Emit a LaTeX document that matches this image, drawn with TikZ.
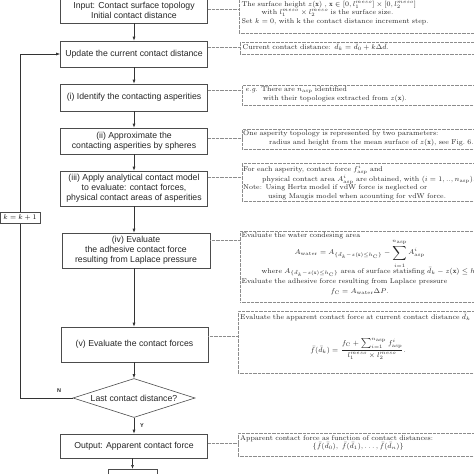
\documentclass[tikz,border=0pt]{standalone}
\usepackage{fontspec}
\newfontfamily\sansf{Liberation Sans}
\usetikzlibrary{arrows.meta,shapes.geometric}
\newcommand{\ctrline}[1]{\makebox[236pt]{#1}}
\begin{document}
\begin{tikzpicture}[x=1pt,y=-1pt,
  lbox/.style={draw=black!70, line width=0.6pt, minimum width=147, align=center, inner sep=1pt, font=\sansf\fontsize{8.7}{9.8}\selectfont, text=black!85},
  rbox/.style={draw=black!45, line width=0.5pt, dash pattern=on 0.5pt off 0.8pt, minimum width=242, anchor=north west, inner sep=0pt},
  rtext/.style={anchor=north west, text width=320, align=left, inner sep=0pt, font=\fontsize{7}{8.5}\selectfont, text=black!85},
  conn/.style={draw=black!45, line width=0.5pt, dash pattern=on 0.5pt off 0.8pt},
  arr/.style={draw=black!80, line width=0.6pt, -{Latex[length=4pt,width=3pt]}},
  lbl/.style={font=\sansf\bfseries\fontsize{5.5}{6}\selectfont, text=black!85, inner sep=0pt}
]
\useasboundingbox (0,0) rectangle (474,474);
\clip (0,0) rectangle (474,474);

% left column
\node[lbox, minimum height=26] (inp) at (134,10) {Input: Contact surface topology\\Initial contact distance};
\node[lbox, minimum height=26] (upd) at (134,54) {Update the current contact distance};
\node[lbox, minimum height=27] (s1) at (134,97.5) {(i) Identify the contacting asperities};
\node[lbox, minimum height=26] (s2) at (134,141) {(ii) Approximate the\\contacting asperities by spheres};
\node[lbox, minimum height=35] (s3) at (134,188.5) {(iii) Apply analytical contact model\\to evaluate: contact forces,\\physical contact areas of asperities};
\node[lbox, minimum height=35, minimum width=148] (s4) at (136,250.5) {(iv) Evaluate\\the adhesive contact force\\resulting from Laplace pressure};
\node[lbox, minimum height=35] (s5) at (134.5,344.5) {(v) Evaluate the contact forces};
\node[diamond, draw=black!70, line width=0.6pt, aspect=3.13, minimum width=122, minimum height=39, inner sep=0pt, font=\sansf\fontsize{8.7}{9.8}\selectfont, text=black!85] (dia) at (134,398) {Last contact distance?};
\node[lbox, minimum height=24] (out) at (134,446) {Output: Apparent contact force};
\node[lbox, minimum width=49, minimum height=26, anchor=north] (fin) at (132.5,469) {};

% arrows
\draw[arr] (inp.south -| upd.north) -- (upd.north);
\draw[arr] (upd.south) -- (s1.north);
\draw[arr] (s1.south) -- (s2.north);
\draw[arr] (s2.south) -- (s3.north);
\draw[arr] (s3.south) -- (s3.south |- s4.north);
\draw[arr] (s3.south |- s4.south) -- (s3.south |- s5.north);
\draw[arr] (s5.south -| dia.north) -- (dia.north);
\draw[arr] (dia.south) -- (dia.south |- out.north);
\draw[arr] (out.south -| fin.north) -- (fin.north);

% loop
\coordinate (lp) at (20,398);
\draw[arr] (dia.west) -- (lp) -- (lp |- upd.west) -- (upd.west);
\node[draw=black!70, fill=white, line width=0.5pt, minimum width=40, minimum height=11, inner sep=0pt, font=\fontsize{7}{8}\selectfont] (kb) at (20,217.5) {$k=k+1$};
\node[lbl] (nl) at (59,391) {N};
\node[lbl] (yl) at (142,426) {Y};

% right boxes
\node[rbox, minimum height=36] (r1) at (239,-3) {};
\node[rbox, minimum height=12] (r2) at (240,42) {};
\node[rbox, minimum height=20] (r3) at (242,85) {};
\node[rbox, minimum height=20] (r4) at (242,129) {};
\node[rbox, minimum height=38] (r5) at (242,163) {};
\node[rbox, minimum height=71] (r6) at (240,231) {};
\node[rbox, minimum height=62] (r7) at (238,311) {};
\node[rbox, minimum height=23] (r8) at (238,433) {};

\node[rtext] (t1) at (241.5,1) {The surface height $z(\mathbf{x})$ , $\mathbf{x}\in[0,l_1^{meso}]\times[0,l_2^{meso}]$\\
\hspace*{20pt}with $l_1^{meso}\times l_2^{meso}$ is the surface size.\\
Set $k=0$, with k the contact distance increment step.};
\node[rtext] (t2) at (242.5,43.5) {Current contact distance: $\bar{d}_k=\bar{d}_0+k\Delta\bar{d}$.};
\node[rtext] (t3) at (245,86.5) {\emph{e.g.} There are $n_{\mathrm{asp}}$ identified\\
\hspace*{18pt}with their topologies extracted from $z(\mathbf{x})$.};
\node[rtext] (t4) at (243,130.5) {One asperity topology is represented by two parameters:\\
\hspace*{26pt}radius and height from the mean surface of $z(\mathbf{x})$, see Fig.~6.};
\node[rtext] (t5) at (243,164.5) {For each asperity, contact force $f^i_{\mathrm{asp}}$ and\\
\hspace*{19pt}physical contact area $A^i_{\mathrm{asp}}$ are obtained, with $(i=1,..,n_{\mathrm{asp}})$.\\
Note: Using Hertz model if vdW force is neglected or\\
\hspace*{25pt}using Maugis model when acounting for vdW force.};
\node[rtext] (t6) at (241.5,232.5) {Evaluate the water condesing area\\[-1pt]
\ctrline{$\displaystyle A_{\mathrm{water}}=A_{\{\bar{d}_k-z(\mathbf{x})\le h_{\mathrm{C}}\}}-\sum_{i=1}^{n_{\mathrm{asp}}}A^i_{\mathrm{asp}}$}\\[-2pt]
\hspace*{20pt}where $A_{\{\bar{d}_k-z(\mathbf{x})\le h_{\mathrm{C}}\}}$ area of surface statisfing $\bar{d}_k-z(\mathbf{x})\le h_{\mathrm{C}}$.\\[1pt]
Evaluate the adhesive force resulting from Laplace pressure\\[1pt]
\ctrline{$f_{\mathrm{C}}=A_{\mathrm{water}}\Delta P$.}};
\node[rtext] (t7) at (240,313) {Evaluate the apparent contact force at current contact distance $\bar{d}_k$\\[17pt]
\ctrline{$\displaystyle \bar{f}(\bar{d}_k)=\frac{f_{\mathrm{C}}+\sum_{i=1}^{n_{\mathrm{asp}}}f^i_{\mathrm{asp}}}{l_1^{meso}\times l_2^{meso}}.$}};
\node[rtext] (t8) at (240,435) {Apparent contact force as function of contact distances:\\
\ctrline{$\{\bar{f}(\bar{d}_0),\ \bar{f}(\bar{d}_1),\dots,\bar{f}(\bar{d}_n)\}$}};

% dotted connectors
\coordinate (c1) at (0,9);
\coordinate (c2) at (0,47);
\coordinate (c3) at (0,90);
\coordinate (c4) at (0,138);
\coordinate (c5) at (0,177);
\coordinate (c6) at (0,240);
\coordinate (c7) at (0,336);
\coordinate (c8) at (0,443);
\draw[conn] (inp.east |- c1) -- (r1.west |- c1);
\draw[conn] (upd.east |- c2) -- (r2.west |- c2);
\draw[conn] (s1.east |- c3) -- (r3.west |- c3);
\draw[conn] (s2.east |- c4) -- (r4.west |- c4);
\draw[conn] (s3.east |- c5) -- (r5.west |- c5);
\draw[conn] (s4.east |- c6) -- (r6.west |- c6);
\draw[conn] (s5.east |- c7) -- (r7.west |- c7);
\draw[conn] (out.east |- c8) -- (r8.west |- c8);
\end{tikzpicture}
\end{document}
